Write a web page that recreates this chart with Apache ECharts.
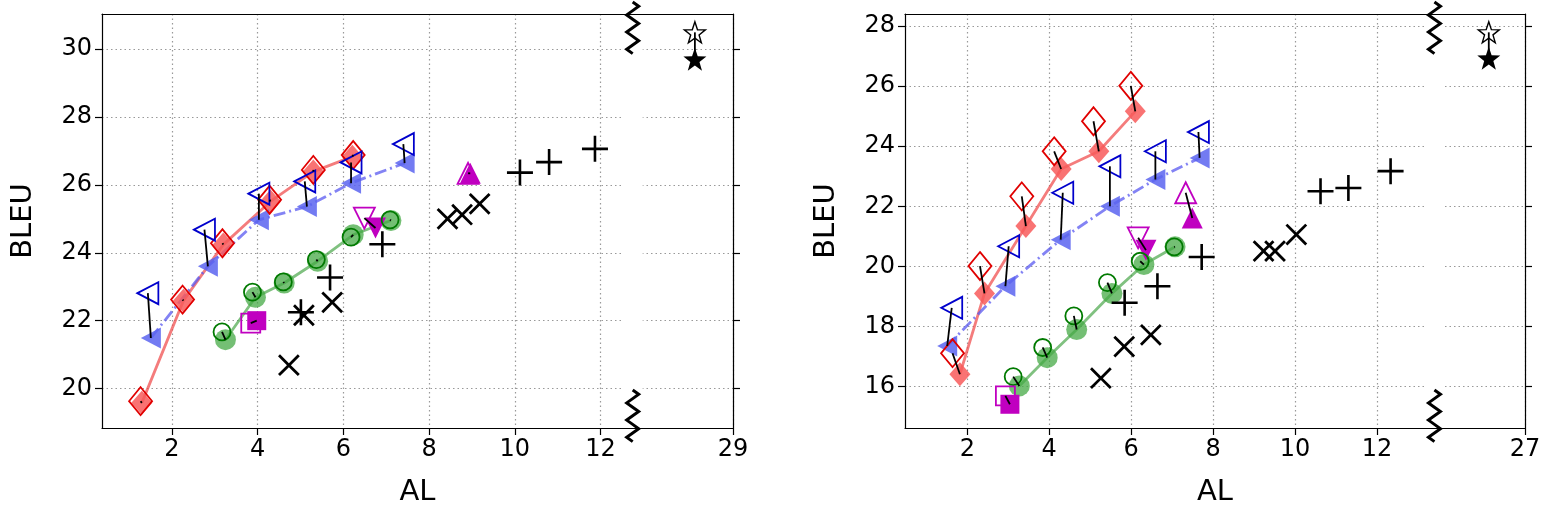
<!DOCTYPE html>
<html lang="en">
<head>
<meta charset="UTF-8">
<script src="https://cdn.jsdelivr.net/npm/echarts@6/dist/echarts.min.js"></script>
<title>BLEU vs AL</title>
</head>
<body style="margin:0;background:#fff">
<div id="main" style="width:1544px;height:517px;"></div>
<script type="text/javascript">
// ---- left panel data (AL, BLEU) ----
const L_redFill = [[1.30,19.58],[2.27,22.59],[3.20,24.24],[4.30,25.51],[5.30,26.39],[6.21,26.83]];
const L_redHollow = [[1.27,19.63],[2.25,22.62],[3.18,24.28],[4.28,25.56],[5.30,26.44],[6.23,26.88]];
const L_blueFill = [[1.51,21.49],[2.84,23.60],[4.03,24.97],[5.15,25.36],[6.18,26.05],[7.43,26.64]];
const L_blueHollow = [[1.44,22.81],[2.76,24.68],[4.03,25.74],[5.10,26.10],[6.18,26.66],[7.40,27.20]];
const L_greenFill = [[3.25,21.44],[3.95,22.69],[4.62,23.11],[5.40,23.75],[6.23,24.53],[7.11,24.95]];
const L_greenHollow = [[3.17,21.67],[3.88,22.84],[4.60,23.14],[5.37,23.80],[6.18,24.46],[7.09,24.97]];
const L_sqFill = [[3.98,22.00]], L_sqHollow = [[3.84,21.93]];
const L_dnFill = [[6.75,24.73]], L_dnHollow = [[6.49,25.02]];
const L_upFill = [[8.96,26.34]], L_upHollow = [[8.91,26.34]];
const L_cross = [[4.73,20.69],[5.08,22.16],[5.74,22.54],[8.43,25.00],[8.77,25.12],[9.18,25.44]];
const L_plus = [[5.01,22.25],[5.69,23.27],[6.91,24.25],[10.12,26.36],[10.80,26.67],[11.87,27.06]];
const L_starFill = [[27.86,29.70]], L_starHollow = [[27.86,30.49]];
// ---- right panel data ----
const R_redFill = [[1.82,16.41],[2.42,19.10],[3.43,21.34],[4.29,23.24],[5.21,23.83],[6.10,25.16]];
const R_redHollow = [[1.64,17.11],[2.31,20.01],[3.33,22.33],[4.12,23.83],[5.08,24.83],[5.99,26.01]];
const R_blueFill = [[1.51,17.35],[2.93,19.34],[4.28,20.89],[5.48,22.00],[6.59,22.89],[7.67,23.61]];
const R_blueHollow = [[1.62,18.62],[3.01,20.67],[4.33,22.45],[5.48,23.33],[6.59,23.83],[7.64,24.47]];
const R_greenFill = [[3.27,16.02],[3.95,16.96],[4.67,17.90],[5.53,19.10],[6.31,20.06],[7.07,20.65]];
const R_greenHollow = [[3.12,16.33],[3.84,17.30],[4.60,18.35],[5.42,19.46],[6.22,20.17],[7.05,20.65]];
const R_sqFill = [[3.04,15.41]], R_sqHollow = [[2.93,15.69]];
const R_dnFill = [[6.36,20.54]], R_dnHollow = [[6.17,20.95]];
const R_upFill = [[7.49,21.61]], R_upHollow = [[7.33,22.45]];
const R_cross = [[5.26,16.28],[5.83,17.33],[6.48,17.72],[9.23,20.51],[9.51,20.51],[10.03,21.06]];
const R_plus = [[5.84,18.79],[6.64,19.34],[7.72,20.31],[10.62,22.50],[11.30,22.61],[12.33,23.17]];
const R_starFill = [[25.80,26.93]], R_starHollow = [[25.80,27.79]];

const xTicks = [2, 4, 6, 8, 10, 12];
const L_yTicks = [20, 22, 24, 26, 28, 30];
const R_yTicks = [16, 18, 20, 22, 24, 26, 28];

// broken axis: values in [lo, hi] squeezed into [brk, edge]
const panels = [
  {grid: {left: 102, top: 14, width: 631, height: 414}, xmin: 0.37, brk: 12.75, edge: 15.09, lo: 26, hi: 29, ymin: 18.84, ymax: 31.03, yTicks: L_yTicks,
   d: {redFill: L_redFill, redHollow: L_redHollow, blueFill: L_blueFill, blueHollow: L_blueHollow, greenFill: L_greenFill, greenHollow: L_greenHollow,
       sqFill: L_sqFill, sqHollow: L_sqHollow, dnFill: L_dnFill, dnHollow: L_dnHollow, upFill: L_upFill, upHollow: L_upHollow,
       cross: L_cross, plus: L_plus, starFill: L_starFill, starHollow: L_starHollow}},
  {grid: {left: 905, top: 14, width: 620, height: 414}, xmin: 0.48, brk: 13.4, edge: 15.61, lo: 24, hi: 27, ymin: 14.62, ymax: 28.40, yTicks: R_yTicks,
   d: {redFill: R_redFill, redHollow: R_redHollow, blueFill: R_blueFill, blueHollow: R_blueHollow, greenFill: R_greenFill, greenHollow: R_greenHollow,
       sqFill: R_sqFill, sqHollow: R_sqHollow, dnFill: R_dnFill, dnHollow: R_dnHollow, upFill: R_upFill, upHollow: R_upHollow,
       cross: R_cross, plus: R_plus, starFill: R_starFill, starHollow: R_starHollow}}
];

const PLUS = 'path://M-1,-10H1V-1H10V1H1V10H-1V1H-10V-1H-1Z';
const STAR = 'path://M0,-10L2.35,-3.24L9.51,-3.09L3.8,1.24L5.88,8.09L0,4L-5.88,8.09L-3.8,1.24L-9.51,-3.09L-2.35,-3.24Z';
const font = 'DejaVu Sans';
const grid = {show: true, lineStyle: {color: '#999', type: [1.5, 3], width: 1.2}};

let grids = [], xAxes = [], yAxes = [], series = [];
panels.forEach((p, i) => {
  grids.push(p.grid);
  xAxes.push({
    type: 'value', gridIndex: i, min: p.xmin, max: p.edge, name: 'AL', nameLocation: 'middle', nameGap: 50,
    nameTextStyle: {fontSize: 29, fontFamily: font, color: '#000'},
    axisLine: {onZero: false, lineStyle: {color: '#000', width: 1.2}},
    axisTick: {customValues: xTicks.concat([p.edge]), length: 7, lineStyle: {color: '#000', width: 1.2}},
    axisLabel: {customValues: xTicks.concat([p.edge]), fontSize: 24, fontFamily: font, color: '#000', margin: 10,
      formatter: v => Math.abs(v - p.edge) < 1e-6 ? String(p.hi) : String(v)},
    splitLine: grid
  });
  xAxes.push({type: 'value', gridIndex: i, position: 'top', min: p.xmin, max: p.edge,
    axisLine: {onZero: false, lineStyle: {color: '#000', width: 1.2}}, axisTick: {show: false}, axisLabel: {show: false}, splitLine: {show: false}});
  yAxes.push({
    type: 'value', gridIndex: i, min: p.ymin, max: p.ymax, name: 'BLEU', nameLocation: 'middle', nameGap: 64,
    nameTextStyle: {fontSize: 29, fontFamily: font, color: '#000'},
    axisLine: {show: true, onZero: false, lineStyle: {color: '#000', width: 1.2}},
    axisTick: {customValues: p.yTicks, length: 7, lineStyle: {color: '#000', width: 1.2}},
    axisLabel: {customValues: p.yTicks, fontSize: 24, fontFamily: font, color: '#000', margin: 10},
    splitLine: grid
  });
  yAxes.push({
    type: 'value', gridIndex: i, position: 'right', min: p.ymin, max: p.ymax,
    axisLine: {show: true, onZero: false, lineStyle: {color: '#000', width: 1.2}},
    axisTick: {customValues: p.yTicks, length: 7, lineStyle: {color: '#000', width: 1.2}},
    axisLabel: {show: false}, splitLine: {show: false}
  });
  const xi = i * 2, yi = i * 2;
  const mapX = v => v <= p.brk ? v : p.brk + (v - p.lo) * (p.edge - p.brk) / (p.hi - p.lo);
  const pts = arr => arr.map(q => [mapX(q[0]), q[1]]);
  const sc = (data, o) => Object.assign({type: 'scatter', xAxisIndex: xi, yAxisIndex: yi, data: pts(data), z: 3}, o);
  const ln = (data, color, type) => ({type: 'line', xAxisIndex: xi, yAxisIndex: yi, data: pts(data), symbol: 'none', z: 2,
    lineStyle: {color: color, width: 2.8, type: type}});
  const st = (o) => Object.assign({opacity: 1}, o);
  const d = p.d;
  series.push(
    ln(d.redFill, 'rgba(240,80,80,0.75)', 'solid'),
    ln(d.blueFill, 'rgba(90,90,240,0.75)', [12, 4, 2, 4]),
    ln(d.greenFill, 'rgba(60,160,60,0.65)', 'solid'),
    sc(d.redFill, {symbol: 'diamond', symbolSize: [21, 24], itemStyle: st({color: 'rgba(248,90,90,0.85)'})}),
    sc(d.redHollow, {symbol: 'diamond', symbolSize: [23, 28], itemStyle: st({color: 'none', borderColor: '#e00000', borderWidth: 1.8}), z: 4}),
    sc(d.blueFill, {symbol: 'triangle', symbolRotate: 90, symbolSize: [21, 20], itemStyle: st({color: 'rgba(90,100,240,0.85)'})}),
    sc(d.blueHollow, {symbol: 'triangle', symbolRotate: 90, symbolSize: [22, 21], itemStyle: st({color: 'none', borderColor: '#0000cc', borderWidth: 1.8}), z: 4}),
    sc(d.greenFill, {symbol: 'circle', symbolSize: 21, itemStyle: st({color: 'rgba(70,170,70,0.75)'})}),
    sc(d.greenHollow, {symbol: 'circle', symbolSize: 17, itemStyle: st({color: 'none', borderColor: '#007a00', borderWidth: 1.8}), z: 4}),
    sc(d.sqFill, {symbol: 'rect', symbolSize: 19, itemStyle: st({color: '#c000c0'})}),
    sc(d.sqHollow, {symbol: 'rect', symbolSize: 19, itemStyle: st({color: 'none', borderColor: '#c000c0', borderWidth: 1.8}), z: 4}),
    sc(d.dnFill, {symbol: 'triangle', symbolRotate: 180, symbolSize: 21, itemStyle: st({color: '#c000c0'})}),
    sc(d.dnHollow, {symbol: 'triangle', symbolRotate: 180, symbolSize: 21, itemStyle: st({color: 'none', borderColor: '#c000c0', borderWidth: 1.8}), z: 4}),
    sc(d.upFill, {symbol: 'triangle', symbolSize: 21, itemStyle: st({color: '#c000c0'})}),
    sc(d.upHollow, {symbol: 'triangle', symbolSize: 21, itemStyle: st({color: 'none', borderColor: '#c000c0', borderWidth: 1.8}), z: 4}),
    sc(d.cross, {symbol: PLUS, symbolRotate: 45, symbolSize: 28, itemStyle: st({color: '#000'})}),
    sc(d.plus, {symbol: PLUS, symbolSize: 26, itemStyle: st({color: '#000'})}),
    sc(d.starFill, {symbol: STAR, symbolSize: 23, itemStyle: st({color: '#000'})}),
    sc(d.starHollow, {symbol: STAR, symbolSize: 21, itemStyle: st({color: '#fff', borderColor: '#000', borderWidth: 1.4}), z: 4})
  );
  // black segments linking hollow and filled markers
  const pairs = [[d.redHollow, d.redFill], [d.blueHollow, d.blueFill], [d.greenHollow, d.greenFill], [d.sqHollow, d.sqFill],
                 [d.dnHollow, d.dnFill], [d.upHollow, d.upFill], [d.starHollow, d.starFill]];
  const segs = [];
  pairs.forEach(([a, b]) => a.forEach((q, k) => segs.push([mapX(q[0]), q[1], mapX(b[k][0]), b[k][1]])));
  series.push({
    type: 'custom', xAxisIndex: xi, yAxisIndex: yi, data: segs, z: 6, encode: {x: [0, 2], y: [1, 3]},
    renderItem: (params, api) => {
      const p1 = api.coord([api.value(0), api.value(1)]), p2 = api.coord([api.value(2), api.value(3)]);
      return {type: 'line', shape: {x1: p1[0], y1: p1[1], x2: p2[0], y2: p2[1]}, style: {stroke: '#000', lineWidth: 1.8}};
    }
  });
});

let myChart = echarts.init(document.getElementById('main'));
myChart.setOption({animation: false, grid: grids, xAxis: xAxes, yAxis: yAxes, series: series});

// axis-break marks
const graphic = [];
panels.forEach((p, i) => {
  const x = myChart.convertToPixel({xAxisIndex: i * 2}, p.brk);
  const top = p.grid.top, bot = p.grid.top + p.grid.height;
  graphic.push({type: 'rect', shape: {x: x - 10, y: top + 2, width: 20, height: p.grid.height - 4}, style: {fill: '#fff'}, z: 100});
  const zig = (y0) => {
    const pts = [];
    for (let k = 0; k <= 12; k++) pts.push([x + (k % 4 === 1 ? 6 : k % 4 === 3 ? -6 : 0), y0 + k * 4.3]);
    return {type: 'polyline', shape: {points: pts}, style: {stroke: '#000', lineWidth: 3, fill: null}, z: 101};
  };
  graphic.push(zig(top - 12), zig(bot - 38));
});
myChart.setOption({graphic: graphic});
</script>
</body>
</html>
